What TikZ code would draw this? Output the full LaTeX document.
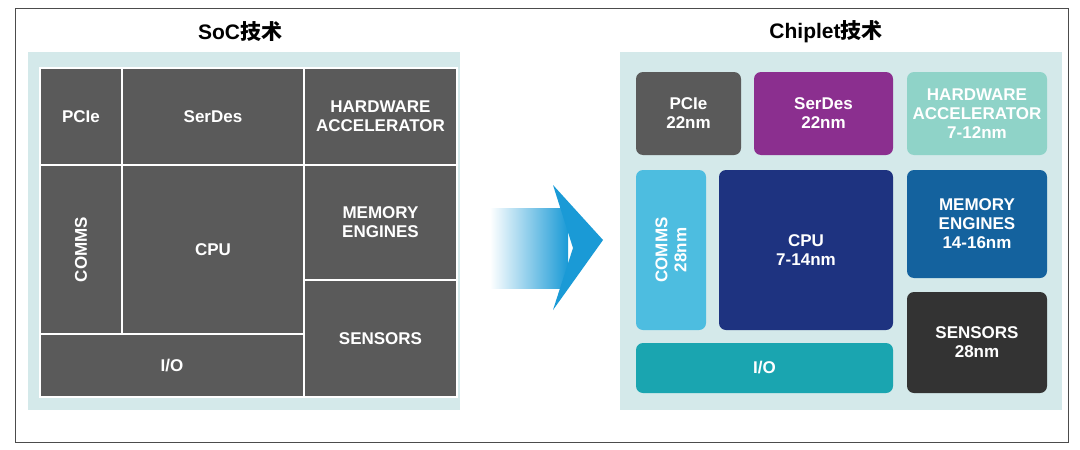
\documentclass[tikz,border=0pt]{standalone}
\usepackage{fontspec}
\setmainfont{Liberation Sans}
\newfontfamily\cjk{Noto Sans CJK SC}
\begin{document}
\begin{tikzpicture}[x=1pt,y=-1pt,
 blk/.style={draw=white,line width=2.5pt,fill=sgray,text=white,font=\bfseries\fontsize{17}{19}\selectfont,align=center,inner sep=0pt},
 cblk/.style={rounded corners=7pt,text=white,font=\bfseries\fontsize{17}{19}\selectfont,align=center,inner sep=0pt},
 ttl/.style={font=\bfseries\fontsize{21}{24}\selectfont}]
\definecolor{sgray}{HTML}{5A5A5A}
\definecolor{panel}{HTML}{D4E9EA}
\definecolor{purp}{HTML}{8B2F8F}
\definecolor{lteal}{HTML}{8FD3C8}
\definecolor{lblue}{HTML}{4DBDE0}
\definecolor{navy}{HTML}{1E3380}
\definecolor{mblue}{HTML}{14629E}
\definecolor{dgray}{HTML}{333333}
\definecolor{teal}{HTML}{1AA5B0}
\definecolor{arrb}{HTML}{1A9AD6}
\useasboundingbox (0,0) rectangle (1080,450);
\fill[white] (0,0) rectangle (1080,450);
\draw[line width=1pt,black!70] (15,8) rectangle (1068,442);
% left
\node[ttl] (t1) at (240,32) {SoC{\cjk 技术}};
\fill[panel] (28,52) rectangle (460,410);
\draw[blk] (40,68) rectangle node (lpcie) {PCIe} (122,165);
\draw[blk] (122,68) rectangle node (lser) {SerDes} (304,165);
\draw[blk] (304,68) rectangle node (lha) {HARDWARE\\ACCELERATOR} (457,165);
\draw[blk] (40,165) rectangle node[rotate=90] (lcom) {COMMS} (122,334);
\draw[blk] (122,165) rectangle node (lcpu) {CPU} (304,334);
\draw[blk] (304,165) rectangle node (lmem) {MEMORY\\ENGINES} (457,280);
\draw[blk] (304,280) rectangle node (lsen) {SENSORS} (457,397);
\draw[blk] (40,334) rectangle node (lio) {I/O} (304,397);
% arrow
\shade[left color=white,right color=arrb] (490,208) rectangle (568,288);
\fill[arrb] (553,185) -- (603,240) -- (553,310) -- (573,248) -- cycle;
% right
\node[ttl] (t2) at (826,32) {Chiplet{\cjk 技术}};
\fill[panel] (620,52) rectangle (1062,410);
\fill[sgray,cblk] (636,72) rectangle node (rpcie) {PCIe\\22nm} (741,155);
\fill[purp,cblk] (754,72) rectangle node (rser) {SerDes\\22nm} (893,155);
\fill[lteal,cblk] (907,72) rectangle node (rha) {HARDWARE\\ACCELERATOR\\7-12nm} (1047,155);
\fill[lblue,cblk] (636,170) rectangle node[rotate=90] (rcom) {COMMS\\28nm} (706,330);
\fill[navy,cblk] (719,170) rectangle node (rcpu) {CPU\\7-14nm} (893,330);
\fill[mblue,cblk] (907,170) rectangle node (rmem) {MEMORY\\ENGINES\\14-16nm} (1047,278);
\fill[dgray,cblk] (907,292) rectangle node (rsen) {SENSORS\\28nm} (1047,393);
\fill[teal,cblk] (636,343) rectangle node (rio) {I/O} (893,393);
\end{tikzpicture}
\end{document}
